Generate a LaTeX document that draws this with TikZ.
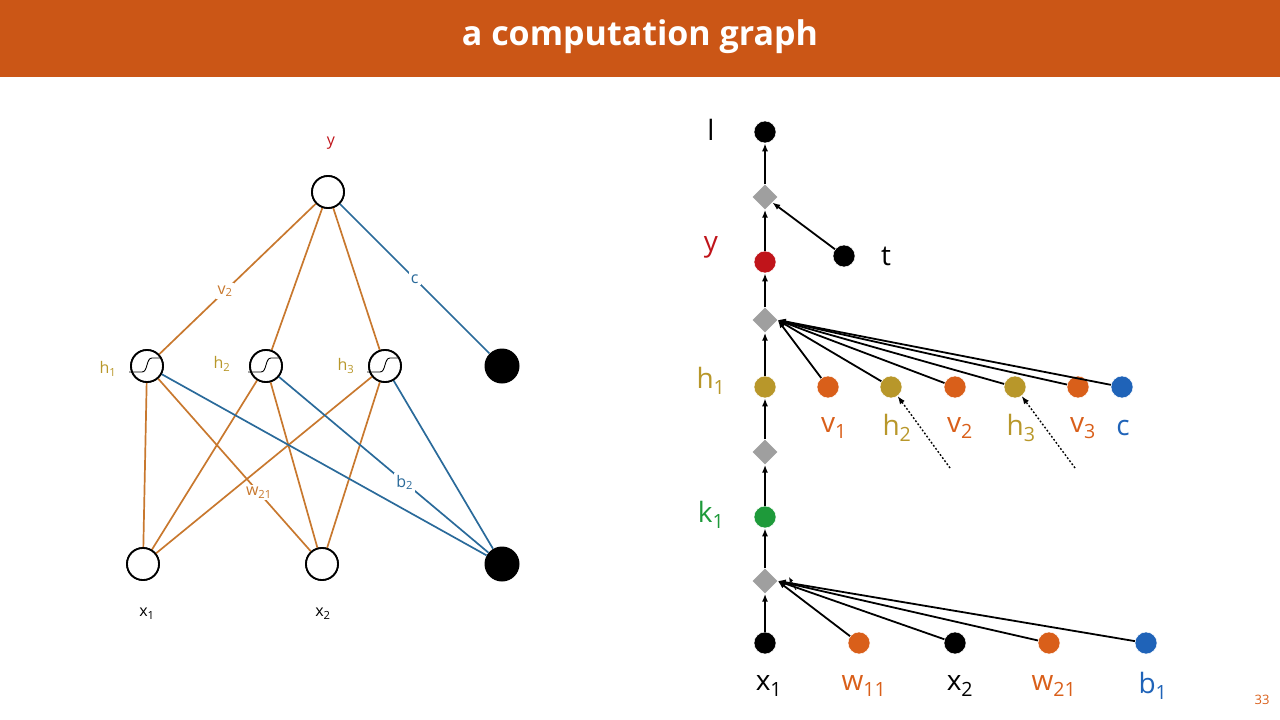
\documentclass[tikz,border=0pt]{standalone}
\usepackage{fontspec}
\setmainfont{Open Sans}
\usetikzlibrary{shapes.geometric,arrows.meta}
\definecolor{bar}{RGB}{203,86,22}
\definecolor{ora}{RGB}{217,95,26}
\definecolor{oli}{RGB}{184,151,42}
\definecolor{rd}{RGB}{192,20,26}
\definecolor{grn}{RGB}{30,154,58}
\definecolor{blu}{RGB}{31,99,184}
\definecolor{eor}{RGB}{200,120,46}
\definecolor{ebl}{RGB}{42,106,154}
\tikzset{
 nn/.style={circle,draw=black,line width=1.8pt,minimum size=32pt,inner sep=0pt,fill=white},
 bn/.style={circle,fill=black,minimum size=35pt,inner sep=0pt},
 cn/.style={circle,minimum size=22pt,inner sep=0pt,draw=white,line width=0.5pt},
 dm/.style={diamond,fill=gray!75,minimum size=25pt,inner sep=0pt},
 oe/.style={draw=eor,line width=1.7pt},
 be/.style={draw=ebl,line width=1.7pt},
 ar/.style={-{Latex[length=8pt,width=6pt]},line width=1.8pt},
 lab/.style={font=\fontsize{16}{16}\selectfont},
 big/.style={font=\fontsize{28}{28}\selectfont},
 gap/.style={fill=white,inner sep=2pt,lab}
}
\newcommand{\sig}[1]{\draw[line width=0.9pt] ([xshift=-18pt,yshift=-6pt]#1.center) -- ([xshift=-5pt,yshift=-6pt]#1.center) .. controls ([xshift=1pt,yshift=-6pt]#1.center) and ([xshift=-1pt,yshift=8pt]#1.center) .. ([xshift=5pt,yshift=8pt]#1.center) -- ([xshift=14pt,yshift=8pt]#1.center);}
\begin{document}
\begin{tikzpicture}[x=1pt,y=-1pt]
\useasboundingbox (0,0) rectangle (1280,720);
\fill[bar] (0,0) rectangle (1280,77);
\node[text=white,font=\fontsize{34}{34}\selectfont\bfseries] (title) at (640,37) {a computation graph};
\node[text=ora,font=\fontsize{13}{13}\selectfont] (pg) at (1262,700) {33};
% left network
\node[nn] (Y) at (328,192) {};
\node[nn] (H1) at (147,366) {};
\node[nn] (H2) at (266,366) {};
\node[nn] (H3) at (385,366) {};
\node[bn] (B1) at (502,366) {};
\node[nn] (X1) at (143,564) {};
\node[nn] (X2) at (322,564) {};
\node[bn] (B2) at (502,564) {};
\draw[oe] (Y) -- node[gap,text=eor,pos=0.58] {v\textsubscript{2}} (H1);
\draw[oe] (Y) -- (H2);
\draw[oe] (Y) -- (H3);
\draw[be] (Y) -- node[gap,text=ebl,pos=0.5] {c} (B1);
\draw[oe] (H1) -- (X1);
\draw[oe] (H1) -- node[gap,text=eor,pos=0.66] {w\textsubscript{21}} (X2);
\draw[oe] (H2) -- (X1);
\draw[oe] (H2) -- (X2);
\draw[oe] (H3) -- (X1);
\draw[oe] (H3) -- (X2);
\draw[be] (H1) -- (B2);
\draw[be] (H2) -- node[gap,text=ebl,pos=0.6] {b\textsubscript{2}} (B2);
\draw[be] (H3) -- (B2);
\foreach \n in {Y,H1,H2,H3,X1,X2} \draw[line width=1.8pt,fill=white] (\n) circle (16pt);
\sig{H1}\sig{H2}\sig{H3}
\node[lab,text=rd] (ly) at (331,143) {y};
\node[lab,text=oli] (lh1) at (108,369) {h\textsubscript{1}};
\node[lab,text=oli] (lh2) at (222,364) {h\textsubscript{2}};
\node[lab,text=oli] (lh3) at (346,366) {h\textsubscript{3}};
\node[lab] (lx1) at (147,614) {x\textsubscript{1}};
\node[lab] (lx2) at (323,614) {x\textsubscript{2}};
% right graph
\node[cn,fill=black] (l) at (765,132) {};
\node[dm] (d1) at (765,197) {};
\node[cn,fill=rd] (y) at (765,262) {};
\node[cn,fill=black] (t) at (844,256) {};
\node[dm] (d2) at (765,320) {};
\node[cn,fill=oli] (h1) at (765,387) {};
\node[cn,fill=ora] (v1) at (828,387) {};
\node[cn,fill=oli] (h2) at (891,387) {};
\node[cn,fill=ora] (v2) at (955,387) {};
\node[cn,fill=oli] (h3) at (1015,387) {};
\node[cn,fill=ora] (v3) at (1078,387) {};
\node[cn,fill=blu] (c) at (1122,387) {};
\node[dm] (d3) at (765,452) {};
\node[cn,fill=grn] (k1) at (765,517) {};
\node[dm] (d4) at (765,581) {};
\node[cn,fill=black] (x1) at (765,643) {};
\node[cn,fill=ora] (w11) at (859,643) {};
\node[cn,fill=black] (x2) at (955,643) {};
\node[cn,fill=ora] (w21) at (1049,643) {};
\node[cn,fill=blu] (b1) at (1146,643) {};
\draw[ar] (d1) -- (l);
\draw[ar] (y) -- (d1);
\draw[ar] (t) -- (d1);
\draw[ar] (d2) -- (y);
\draw[ar] (h1) -- (d2);
\foreach \n in {v1,h2,v2,h3,v3,c} \draw[ar] (\n) -- (d2.east);
\draw[ar] (d3) -- (h1);
\draw[ar] (k1) -- (d3);
\draw[ar] (d4) -- (k1);
\draw[ar] (x1) -- (d4);
\foreach \n in {w11,x2,w21,b1} \draw[ar] (\n) -- (d4.east);
\coordinate (e2) at (950,468);
\coordinate (e3) at (1075,468);
\draw[ar,dotted,line width=1.4pt] (e2) -- (h2);
\draw[ar,dotted,line width=1.4pt] (e3) -- (h3);
\coordinate (s1) at (796,590);
\coordinate (s2) at (789,577);
\draw[-{Latex[length=5pt,width=4pt]},line width=0.8pt] (s1) -- (s2);
\node[big] (Ll) at (711,130) {l};
\node[big,text=rd] (Ly) at (711,247) {y};
\node[big] (Lt) at (886,256) {t};
\node[big,text=oli] (Lh1) at (711,381) {h\textsubscript{1}};
\node[big,text=grn] (Lk1) at (711,515) {k\textsubscript{1}};
\node[big,text=ora] (Lv1) at (834,428) {v\textsubscript{1}};
\node[big,text=oli] (Lh2) at (897,428) {h\textsubscript{2}};
\node[big,text=ora] (Lv2) at (960,428) {v\textsubscript{2}};
\node[big,text=oli] (Lh3) at (1021,428) {h\textsubscript{3}};
\node[big,text=ora] (Lv3) at (1083,428) {v\textsubscript{3}};
\node[big,text=blu] (Lc) at (1123,428) {c};
\node[big] (Lx1) at (769,686) {x\textsubscript{1}};
\node[big,text=ora] (Lw11) at (864,686) {w\textsubscript{11}};
\node[big] (Lx2) at (960,686) {x\textsubscript{2}};
\node[big,text=ora] (Lw21) at (1054,686) {w\textsubscript{21}};
\node[big,text=blu] (Lb1) at (1153,686) {b\textsubscript{1}};
\end{tikzpicture}
\end{document}
